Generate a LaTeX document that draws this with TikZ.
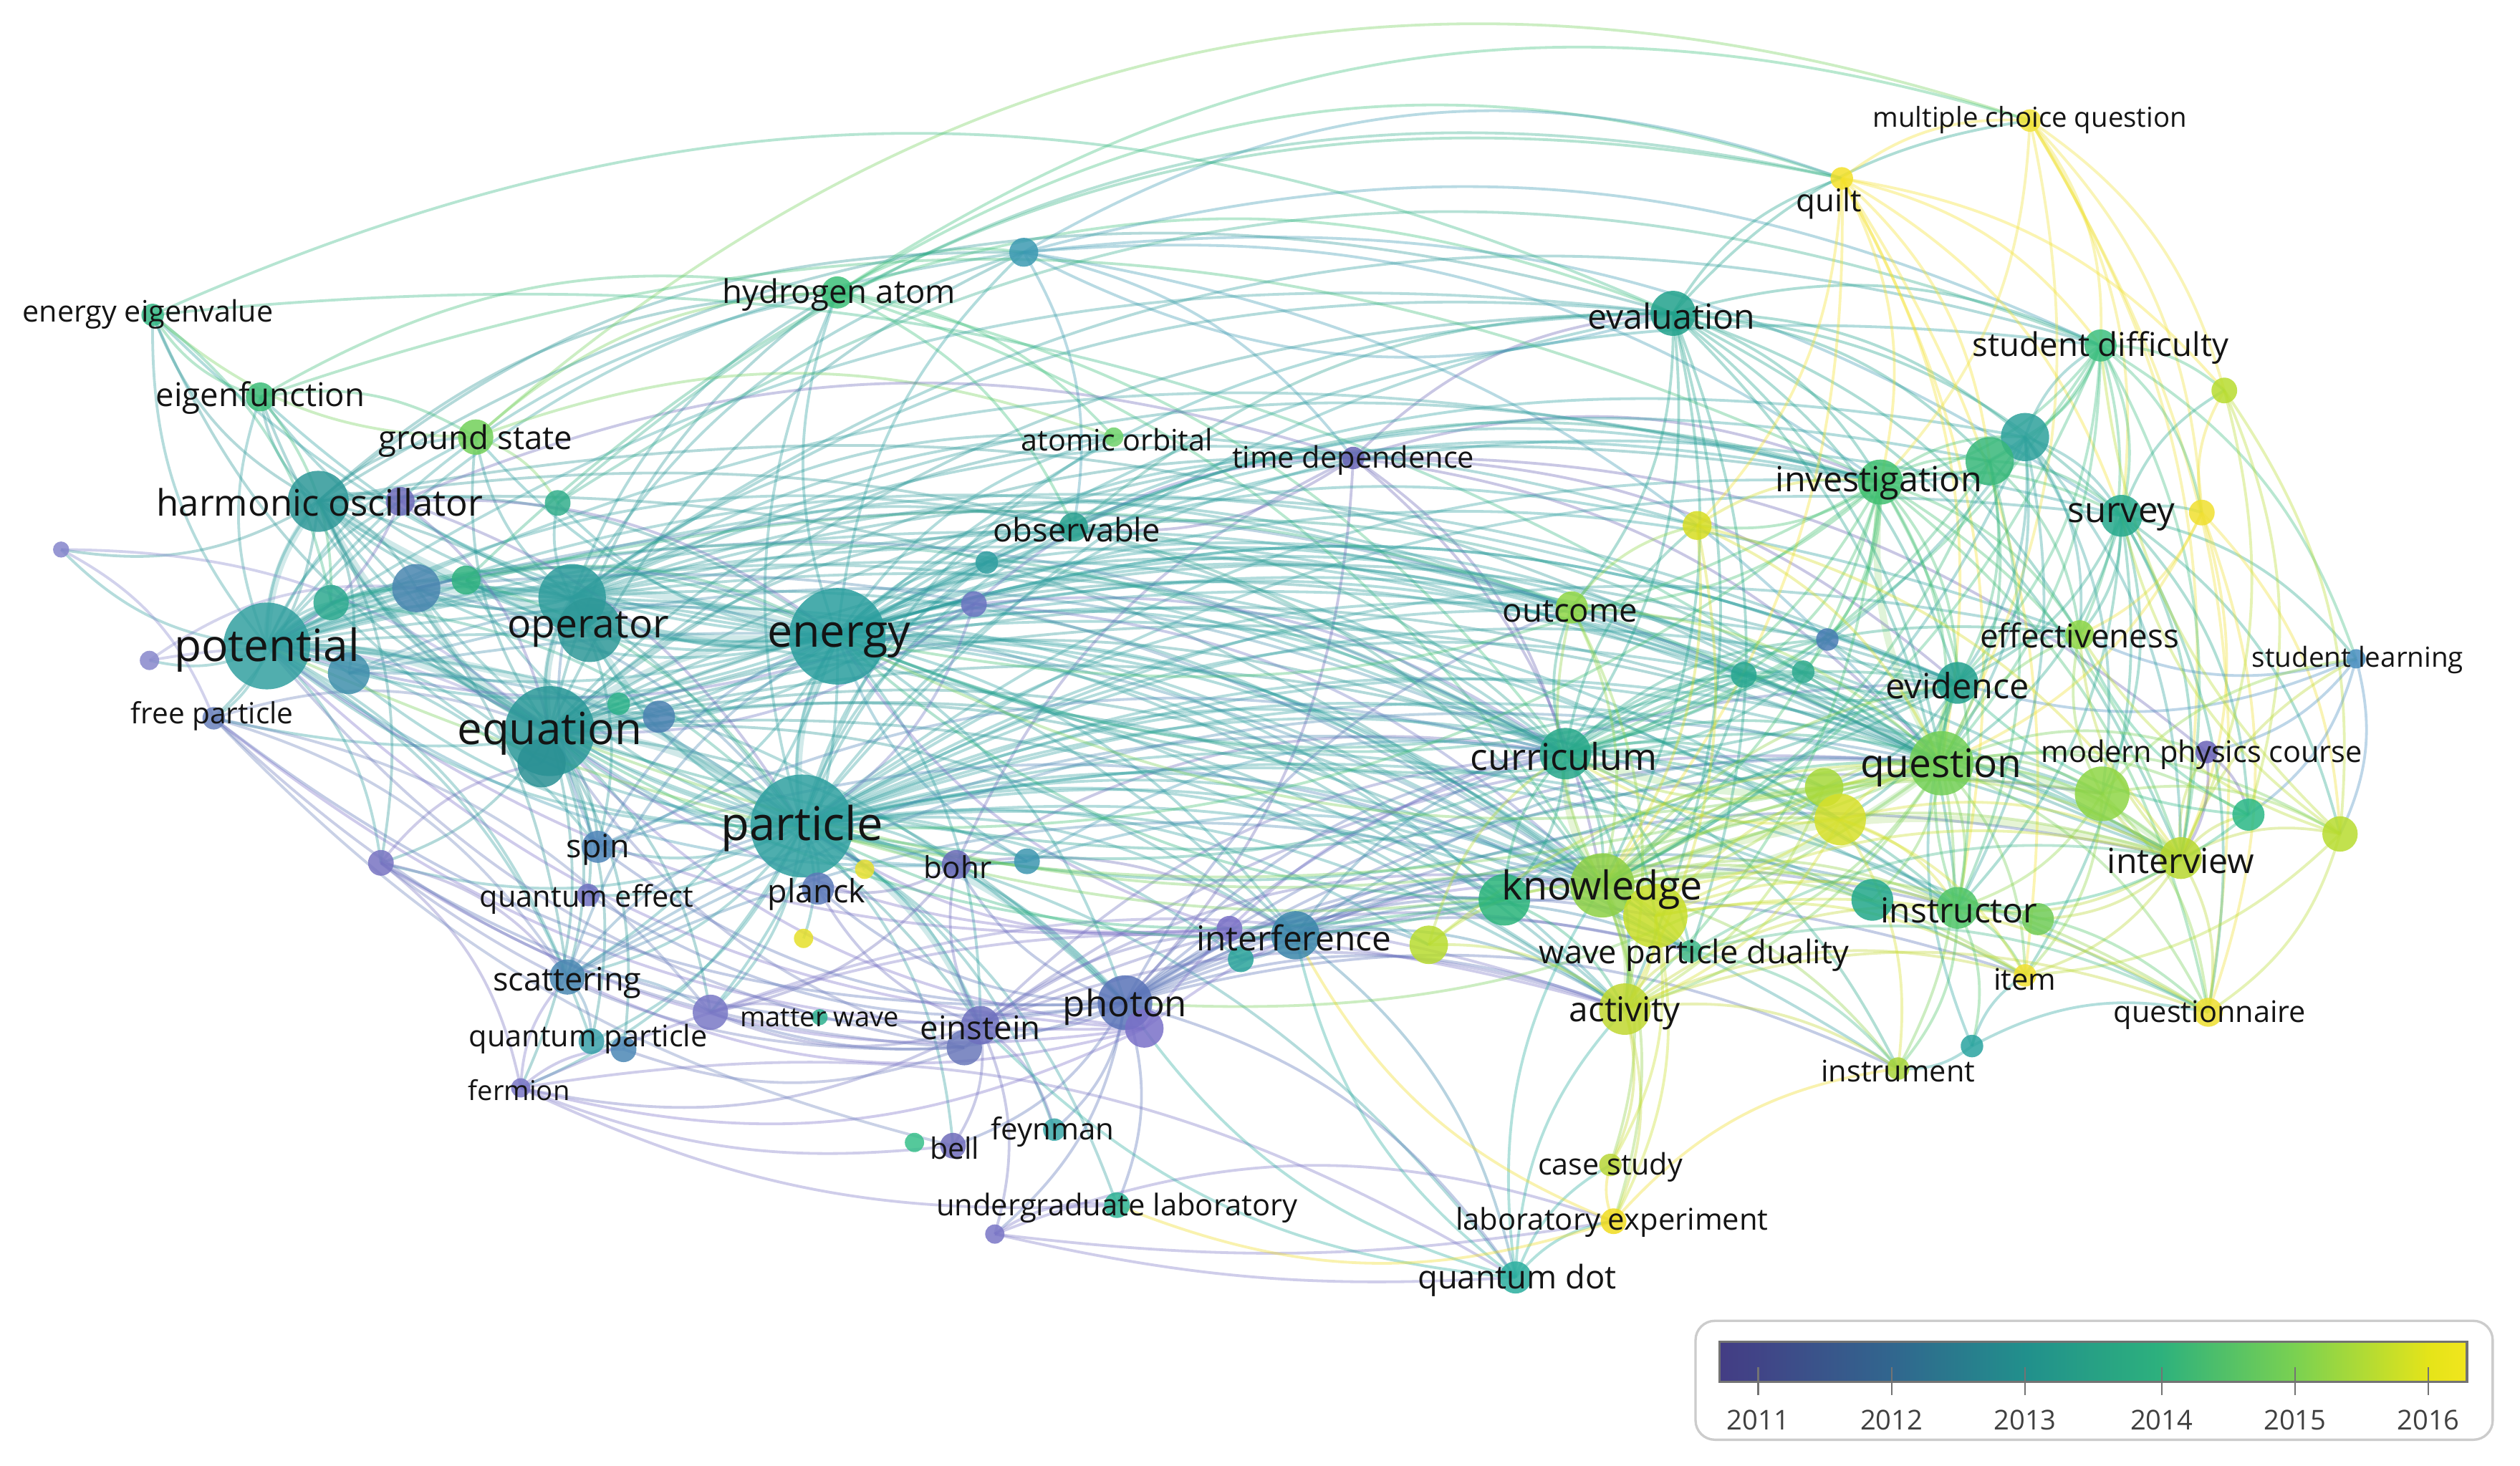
\documentclass[tikz,border=0pt]{standalone}
\usepackage{fontspec}
\setmainfont{Open Sans}
\pgfdeclarelayer{bg}
\pgfdeclarelayer{edges}
\pgfsetlayers{bg,edges,main}
\newcommand\mknode[5]{\definecolor{c-#1}{HTML}{#5}\node[dot,fill=c-#1,minimum size=#4pt] (#1) at (#2,#3) {};}
\newcommand\mklabel[5]{\node[lbl,font=\fontsize{\fpeval{#4/2}}{\fpeval{#4/2}}\selectfont] (t-#1) at (#2,#3) {#5};}
\newcommand\edgesfrom[2]{\foreach \tgt in {#2}{\draw[edge,draw=c-#1] (#1.center) to[bend left=20] (\tgt.center);}}
\newcommand\arcsfrom[3]{\foreach \tgt in {#3}{\draw[edge,draw=c-#1] (#1.center) to[bend left=#2] (\tgt.center);}}
\newcommand\thickfrom[2]{\foreach \tgt in {#2}{\draw[edge,line width=2.2pt,draw opacity=0.22,draw=c-#1] (#1.center) to[bend left=18] (\tgt.center);}}
\definecolor{v0}{HTML}{433D84}\definecolor{v1}{HTML}{414487}\definecolor{v2}{HTML}{31668E}
\definecolor{v3}{HTML}{21908C}\definecolor{v4}{HTML}{2DB17D}\definecolor{v5}{HTML}{7AD151}
\definecolor{v6}{HTML}{E5E419}\definecolor{v7}{HTML}{F2E51D}
\pgfdeclarehorizontalshading{viridis}{100bp}{color(0bp)=(v0); color(25bp)=(v0); color(27.5bp)=(v1); color(36.5bp)=(v2); color(45.5bp)=(v3); color(54.5bp)=(v4); color(63.5bp)=(v5); color(72.5bp)=(v6); color(75bp)=(v7); color(100bp)=(v7)}
\begin{document}
\begin{tikzpicture}[x=0.5pt,y=-0.5pt,
  dot/.style={circle,inner sep=0pt,fill opacity=0.85,draw=none},
  edge/.style={line width=0.85pt,draw opacity=0.36},
  lbl/.style={inner sep=0pt,text=black!92,yshift=-0.8pt}]
\begin{pgfonlayer}{bg}
\fill[white] (0,0) rectangle (1568,912);
\end{pgfonlayer}
\useasboundingbox (0,0) rectangle (1568,912);
% ---------------- left cluster nodes
\mknode{ee}{95}{196}{7}{35B885}
\mknode{ef}{162}{247}{9}{3DBD78}
\mknode{gs}{296}{272}{11}{72D05A}
\mknode{ho}{198}{312}{19}{2E9898}
\mknode{pl1}{38}{342}{5}{8585CC}
\mknode{pl2}{93}{411}{6}{8888CC}
\mknode{pot}{166}{402}{27}{33A0A0}
\mknode{fp}{133}{447}{7}{6A82BC}
\mknode{l1}{217}{419}{13}{4090AC}
\mknode{l2}{206}{375}{11}{2EAA90}
\mknode{l3}{259}{366}{15}{4A86B0}
\mknode{l4}{290}{361}{9}{30B280}
\mknode{l5}{249}{312}{9}{6E6CBA}
\mknode{l6}{347}{313}{8}{33AE8C}
\mknode{op1}{356}{372}{21}{2E9C9C}
\mknode{op2}{367}{392}{20}{2E9898}
\mknode{eq}{342}{455}{28}{2A9898}
\mknode{eq2}{337}{475}{15}{2A9094}
\mknode{l7}{385}{438}{7}{2EB38A}
\mknode{l8}{410}{446}{10}{4C82B2}
\mknode{spin}{372}{527}{10}{4E84B8}
\mknode{qe}{366}{557}{7}{7272C2}
\mknode{l9}{237}{537}{8}{7874C2}
\mknode{sc}{353}{608}{11}{4A88B2}
\mknode{qp1}{368}{648}{8}{3AA2AA}
\mknode{qp2}{388}{653}{8}{4C88B6}
\mknode{fer}{324}{677}{6}{7A76C6}
\mknode{mw}{442}{630}{11}{7A78C6}
\mknode{mw2}{510}{633}{5}{30B290}
\mknode{par}{499}{514}{32}{30A0A0}
\mknode{plk}{509}{553}{10}{5A78B8}
\mknode{y1}{538}{541}{6}{E8E030}
\mknode{y2}{500}{584}{6}{E6E02A}
\mknode{bohr}{595}{538}{9}{6A6AB8}
\mknode{b2}{639}{536}{8}{3C96B0}
\mknode{en}{521}{396}{30}{2A9E9E}
\mknode{m1}{606}{376}{8}{6A74C0}
\mknode{m2}{614}{350}{7}{2F9EA0}
\mknode{obs}{668}{328}{9}{28A08E}
\mknode{ao}{693}{272}{6}{6FD26A}
\mknode{ha}{521}{182}{10}{3CC07A}
\mknode{m3}{637}{157}{9}{3C9AB2}
\mknode{td}{842}{285}{7}{6A66B6}
\mknode{ein2}{600}{652}{11}{6A78BA}
\mknode{ein}{610}{638}{12}{6E70BE}
\mknode{ph}{700}{624}{17}{5A74B8}
\mknode{ph2}{712}{640}{12}{7A70C8}
\mknode{intf}{806}{582}{15}{3A86AA}
\mknode{intf2}{765}{578}{8}{7A70C6}
\mknode{intf3}{772}{597}{8}{2AA49A}
\mknode{yg1}{889}{588}{12}{B8DC30}
\mknode{bell}{593}{713}{8}{6F6CBA}
\mknode{bell2}{569}{711}{6}{38C08A}
\mknode{fey}{656}{703}{7}{3AA8A8}
\mknode{ul}{695}{750}{8}{2DB394}
\mknode{ul2}{619}{768}{6}{7A76C6}
\mknode{qd}{943}{795}{10}{2AAE9E}
% ---------------- right cluster nodes
\mknode{quilt}{1146}{111}{7}{F4E12A}
\mknode{mcq}{1263}{75}{7}{F1E33A}
\mknode{eval}{1041}{195}{14}{21A28C}
\mknode{sd}{1307}{215}{10}{3DBF80}
\mknode{r1}{1384}{243}{8}{B8DC30}
\mknode{r2}{1260}{272}{15}{2EA19C}
\mknode{r3}{1238}{287}{15}{38B87A}
\mknode{inv}{1170}{300}{14}{40C070}
\mknode{r4}{1056}{327}{9}{D7DD22}
\mknode{sur}{1320}{321}{13}{25A98C}
\mknode{r5}{1370}{319}{8}{F0E030}
\mknode{out}{978}{378}{10}{8FD646}
\mknode{r6}{1137}{398}{7}{4A7CB4}
\mknode{r7}{1085}{420}{8}{27A690}
\mknode{r8}{1122}{418}{7}{2FAA90}
\mknode{eff}{1294}{395}{9}{8FD646}
\mknode{sl}{1466}{410}{6}{4A8FC0}
\mknode{evi}{1218}{425}{13}{22A08E}
\mknode{cur}{974}{469}{16}{27A88A}
\mknode{que}{1208}{475}{20}{72CF55}
\mknode{q2}{1135}{490}{12}{A6D93A}
\mknode{q3}{1145}{510}{16}{D6E02A}
\mknode{mpc}{1373}{468}{7}{6A62B8}
\mknode{r9}{1308}{494}{17}{8FD646}
\mknode{r10}{1399}{507}{10}{2AB885}
\mknode{r11}{1456}{519}{11}{B8DC30}
\mknode{intv}{1357}{534}{13}{B8D830}
\mknode{kn2}{936}{560}{16}{2AB47A}
\mknode{kn}{997}{551}{20}{8ED045}
\mknode{kn3}{1030}{570}{20}{C8DE28}
\mknode{ins2}{1165}{560}{13}{22A88A}
\mknode{ins}{1218}{565}{13}{4FC568}
\mknode{ins3}{1268}{572}{10}{70CC58}
\mknode{wpd}{1052}{592}{7}{40B88A}
\mknode{act}{1011}{628}{16}{C0D830}
\mknode{item}{1260}{607}{7}{F1E030}
\mknode{qn}{1374}{630}{9}{EEDF30}
\mknode{instr}{1181}{665}{7}{A8D43A}
\mknode{r12}{1227}{651}{7}{2AA4A0}
\mknode{cs}{1002}{725}{7}{B8D638}
\mknode{le}{1004}{760}{8}{F0DC20}
% ---------------- edges
\begin{pgfonlayer}{edges}
\thickfrom{pot}{eq,op1,par,en,ho,l3}
\thickfrom{eq}{par,en,op1,ho,l3}
\thickfrom{par}{en,ph,op1,ein}
\thickfrom{en}{op1,ho}
\thickfrom{que}{kn,cur,inv,evi,intv}
\thickfrom{kn}{cur,act,intv}
\edgesfrom{par}{pot,eq,op1,en,ho,spin,sc,qe,mw,plk,bohr,ein,ph,intf,fey,bell,ul,qd,cur,kn,que,act,wpd,obs,ha,ao,td,m1,m2,l1,l2,l3,l4,l9,qp1,fer,eval,inv,evi,kn2,intv,y1,y2,b2}
\edgesfrom{en}{pot,eq,op1,ho,ef,gs,ha,ao,obs,m3,td,spin,sc,ph,intf,kn,cur,out,que,eval,inv,l3,l4,l6,mw,ein,ee,fp,evi,act,m1,m2,sd}
\edgesfrom{pot}{eq,op1,ho,ef,ee,gs,fp,pl1,pl2,l1,l2,l3,l4,l5,spin,sc,qp1,l9,ha,obs,ph,cur,kn,m3,op2,eq2}
\edgesfrom{eq}{op1,ho,ef,ee,gs,spin,sc,qe,qp1,qp2,l9,ha,obs,ao,td,ph,ein,intf,kn,cur,que,m3,mw,l7,l8,eq2,fer}
\edgesfrom{op1}{ho,ef,gs,ha,obs,ao,td,spin,l6,m3,intf,kn,que,eval,l3,l4}
\edgesfrom{ho}{ef,ee,gs,l5,pl1,fp,ha,m3,sc,l9,l3,l1}
\edgesfrom{ef}{ee,gs,ha,l2}
\edgesfrom{gs}{ha,ao,ee,l6}
\edgesfrom{ee}{que,l2}
\edgesfrom{ha}{m3,ao,obs,eval,kn,cur}
\edgesfrom{m3}{inv,td,obs,que,sd,sur}
\edgesfrom{ph}{ein,bell,fey,ul,ul2,intf,bohr,plk,mw,kn,cur,act,wpd,que,qd,ins,intv,spin,qe,l9,fp,ph2}
\edgesfrom{ein}{bohr,plk,bell,mw,fer,ul2,fey,intf,kn,ein2}
\edgesfrom{bohr}{plk,intf,mw,td,cur}
\edgesfrom{intf}{kn,cur,wpd,act,que,qd,ins,yg1,intf2,intf3}
\edgesfrom{td}{eval,inv,kn,cur,que,evi,mpc,obs,ph}
\edgesfrom{pl1}{fp,eq}
\edgesfrom{pl2}{l3,eq}
\edgesfrom{l9}{sc,fer,eq2}
\edgesfrom{fp}{eq,sc,mw}
\edgesfrom{fer}{qd,act,sc,qp2}
\edgesfrom{sc}{kn,qp1,mw}
\edgesfrom{mw}{act,mw2}
\edgesfrom{ul2}{le,ul}
% cross-cluster
\edgesfrom{en}{intv,evi,eff,sur,ins,r9,q3,kn2,kn3,r7,r8,wpd,r4,r2,r3}
\edgesfrom{par}{ins2,r9,q3,q2,kn3,instr,item,qn,out,r7,r6,eff,sur,yg1,intf3}
\edgesfrom{eq}{evi,out,ins,intv,act,wpd,kn2,r7,eval,inv}
\edgesfrom{pot}{que,intv,evi,act,out,eval,inv}
\edgesfrom{op1}{cur,out,evi,ins,act,inv,r4}
\edgesfrom{ph}{kn2,kn3,r9,instr,item,evi,out}
\edgesfrom{ein}{cur,que,act,wpd}
\edgesfrom{l3}{kn,cur,que,en,par}
\edgesfrom{l1}{par,en,cur,kn}
\edgesfrom{l2}{en,par,cur}
\edgesfrom{l4}{en,par,que}
\edgesfrom{ho}{en,par,cur,kn,que}
\edgesfrom{m1}{eq,pot,par,td,cur,kn}
\edgesfrom{m2}{pot,eq,cur,inv,que}
\edgesfrom{obs}{cur,kn,que,inv,eval}
\edgesfrom{ph2}{pot,eq,l9,fp,fer,sc,cur,kn}
\edgesfrom{ein2}{pot,eq,fp,l9,qp2}
\edgesfrom{l5}{en,par,eq,pot,td}
\edgesfrom{spin}{en,op1,kn,cur}
\edgesfrom{sc}{en,par,cur,que}
\edgesfrom{intf2}{par,eq,pot,en}
\edgesfrom{b2}{en,eq,pot,cur,kn}
\edgesfrom{kn2}{par,en,eq,que,cur,act}
\edgesfrom{r7}{en,par,que,kn}
\edgesfrom{r8}{en,que,cur}
\edgesfrom{evi}{par,en,eq}
\edgesfrom{inv}{par,en}
\edgesfrom{que}{par,en,eq,pot,ph}
% long arcs
\arcsfrom{gs}{30}{mcq}
\arcsfrom{l6}{27}{quilt,sd}
\arcsfrom{ha}{25}{quilt,mcq}
\arcsfrom{m3}{25}{quilt}
\arcsfrom{m3}{-22}{eval}
\arcsfrom{ee}{24}{eval}
\arcsfrom{ef}{22}{inv}
\arcsfrom{ho}{24}{eval}
\arcsfrom{op1}{26}{sd}
\arcsfrom{l4}{28}{quilt}
\arcsfrom{fer}{-14}{bell,ul}
\arcsfrom{fp}{-16}{bell}
\arcsfrom{ul2}{-8}{qd,le}
% right cluster
\edgesfrom{eval}{quilt,mcq,inv,sd,sur,cur,kn,que,out,evi,ins,eff,r2,r3,act,wpd,intv}
\edgesfrom{quilt}{mcq,inv,sd,r1,sur,que,kn,r4,r3,ins,item}
\edgesfrom{mcq}{sd,sur,r1,r5,inv,que,intv,qn}
\edgesfrom{sd}{inv,sur,r1,r2,r3,eff,que,evi,intv,sl,r5,kn,cur}
\edgesfrom{inv}{r2,r3,sur,eff,evi,que,kn,cur,out,ins,act,intv,r4,r6,r7,r8,qn}
\edgesfrom{sur}{r1,r5,eff,sl,que,intv,r10,r11,evi,ins,r9,qn,item}
\edgesfrom{r5}{r1,eff,que,intv,r11,qn}
\edgesfrom{r1}{r10,r11,intv}
\edgesfrom{cur}{kn,que,out,ins,act,wpd,evi,r4,r6,r7,r8,kn2,kn3,q2,q3,instr,intv,eff}
\edgesfrom{kn}{que,act,wpd,ins,ins2,evi,out,q2,q3,cs,le,instr,intv,item,qn,r9}
\edgesfrom{que}{ins,ins2,intv,evi,eff,item,qn,instr,r9,r10,r11,mpc,act,wpd}
\edgesfrom{intv}{r9,r10,r11,qn,item,ins,ins3,mpc,sl,eff}
\edgesfrom{act}{cs,le,instr,item,qn,ins,wpd}
\edgesfrom{qd}{le,cs,act,kn,intf,ph,ein}
\edgesfrom{sl}{r10,mpc,eff,r11,evi}
\edgesfrom{mpc}{r10,intv}
\edgesfrom{ins}{instr,item,qn,r12,evi,ins3}
\edgesfrom{r12}{instr,item,qn,evi}
\edgesfrom{le}{cs,intf,ul,instr}
\edgesfrom{out}{r4,kn,que,act}
\edgesfrom{evi}{eff,r6,r7,r8,q2,q3}
\edgesfrom{yg1}{kn,cur,que,act}
\edgesfrom{r2}{sd,sur,inv,que,evi,eff,intv,ins,r9,kn,cur}
\edgesfrom{r3}{sur,que,evi,eff,kn,cur,ins}
\edgesfrom{q3}{kn,que,intv,ins,act,cur,instr,item}
\edgesfrom{q2}{kn,que,intv,cur,act}
\edgesfrom{r9}{qn,item,ins,sl,eff,r11}
\edgesfrom{kn3}{que,act,intv,ins,cs,le,qn,item}
\edgesfrom{r11}{qn,item,eff,sur,sd}
\edgesfrom{r10}{evi,ins,eff}
\edgesfrom{r4}{que,kn,act,inv,intv}
\edgesfrom{wpd}{instr,qn,intv}
\end{pgfonlayer}
% ---------------- labels
\mklabel{ee}{92}{194}{18.4}{energy eigenvalue}
\mklabel{ef}{162}{246}{20.3}{eigenfunction}
\mklabel{gs}{296}{273}{20.3}{ground state}
\mklabel{ho}{199}{311}{22.7}{harmonic oscillator}
\mklabel{pot}{166}{403}{27.7}{potential}
\mklabel{fp}{132}{444}{18.1}{free particle}
\mklabel{op}{366}{390}{24.6}{operator}
\mklabel{eq}{342}{455}{27.6}{equation}
\mklabel{spin}{372}{527}{20}{spin}
\mklabel{qe}{365}{558}{18.5}{quantum effect}
\mklabel{sc}{353}{610}{20.1}{scattering}
\mklabel{qp}{366}{645}{18.5}{quantum particle}
\mklabel{fer}{323}{677}{17}{fermion}
\mklabel{mw}{510}{632}{17}{matter wave}
\mklabel{par}{499}{514}{29}{particle}
\mklabel{plk}{508}{555}{20}{planck}
\mklabel{bohr}{596}{538}{18.8}{bohr}
\mklabel{en}{522}{397}{28}{energy}
\mklabel{obs}{670}{328}{20.2}{observable}
\mklabel{ao}{695}{272}{18.4}{atomic orbital}
\mklabel{ha}{522}{182}{20.3}{hydrogen atom}
\mklabel{td}{842}{285}{18.5}{time dependence}
\mklabel{ein}{610}{638}{20.3}{einstein}
\mklabel{ph}{700}{625}{22.7}{photon}
\mklabel{intf}{805}{582}{21.3}{interference}
\mklabel{bell}{594}{713}{18.3}{bell}
\mklabel{fey}{655}{703}{18.7}{feynman}
\mklabel{ul}{695}{750}{18.6}{undergraduate laboratory}
\mklabel{qd}{944}{795}{20.2}{quantum dot}
\mklabel{quilt}{1138}{125}{19.5}{quilt}
\mklabel{mcq}{1263}{73}{17.1}{multiple choice question}
\mklabel{eval}{1040}{195}{21.5}{evaluation}
\mklabel{sd}{1307}{215}{20.3}{student difficulty}
\mklabel{inv}{1169}{299}{21.6}{investigation}
\mklabel{sur}{1320}{320}{21.9}{survey}
\mklabel{out}{977}{379}{20.3}{outcome}
\mklabel{eff}{1294}{394}{20.4}{effectiveness}
\mklabel{sl}{1467}{409}{17.2}{student learning}
\mklabel{evi}{1218}{425}{21.7}{evidence}
\mklabel{cur}{973}{469}{23}{curriculum}
\mklabel{que}{1208}{476}{24.5}{question}
\mklabel{mpc}{1370}{468}{18.5}{modern physics course}
\mklabel{intv}{1357}{534}{21.5}{interview}
\mklabel{kn}{997}{552}{24.8}{knowledge}
\mklabel{ins}{1219}{565}{21.4}{instructor}
\mklabel{wpd}{1054}{593}{20.2}{wave particle duality}
\mklabel{act}{1011}{629}{21.3}{activity}
\mklabel{item}{1260}{608}{18.5}{item}
\mklabel{qn}{1375}{630}{18.5}{questionnaire}
\mklabel{instr}{1181}{665}{18.5}{instrument}
\mklabel{cs}{1002}{725}{18.4}{case study}
\mklabel{le}{1003}{759}{18.6}{laboratory experiment}
% ---------------- legend
\draw[draw=black!20,line width=0.75pt,rounded corners=6pt] (1055,822) rectangle (1551,896);
\shade[shading=viridis] (1070,835) rectangle (1535,860);
\draw[draw=black!55,line width=0.75pt] (1070,835) rectangle (1535,860);
\foreach \xx/\yr in {1094/2011,1177/2012,1260/2013,1345/2014,1428/2015,1511/2016}{
  \draw[black!55,line width=0.5pt] (\xx,851) -- (\xx,868);
  \node[lbl,text=black!75,font=\fontsize{8.5}{8.5}\selectfont] at (\xx,882) {\yr};}
\end{tikzpicture}
\end{document}
